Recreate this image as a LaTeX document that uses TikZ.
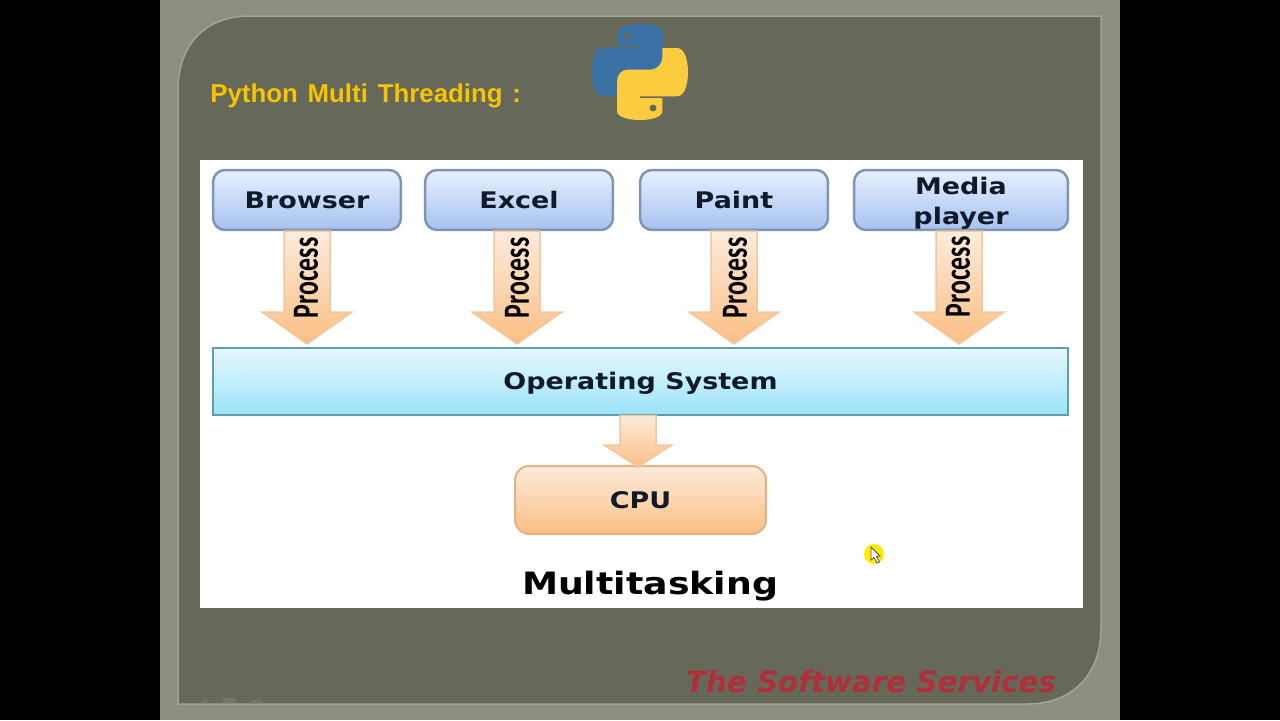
\documentclass[tikz,border=0pt]{standalone}
\usepackage{fontspec}
\usetikzlibrary{calc}
\setmainfont[FakeStretch=1.18]{DejaVu Sans}
\newfontfamily\brandfont{DejaVu Sans}
\newfontfamily\arialfont{Liberation Sans}
\newfontfamily\narrowfont{Carlito}
\definecolor{slidebg}{HTML}{8C8F7F}
\definecolor{panelbg}{HTML}{66685A}
\definecolor{panelrim}{HTML}{A3A594}
\definecolor{navmark}{HTML}{737567}
\definecolor{inktext}{HTML}{101A2A}
\definecolor{titlegold}{HTML}{F6C500}
\definecolor{brandred}{HTML}{B02F38}
\definecolor{pyblue}{HTML}{3A72A6}
\definecolor{pyyellow}{HTML}{FBCC3E}
\definecolor{appedge}{HTML}{7E95B6}
\definecolor{appup}{HTML}{E8F0FD}
\definecolor{appdown}{HTML}{A6C2F0}
\definecolor{arrowedge}{HTML}{F0C8A0}
\definecolor{arrowup}{HTML}{FCEBDC}
\definecolor{arrowdown}{HTML}{FBBE84}
\definecolor{osedge}{HTML}{5F9FAB}
\definecolor{osup}{HTML}{E6F8FE}
\definecolor{osdown}{HTML}{9CE3F9}
\definecolor{cpuedge}{HTML}{E2B280}
\newcommand{\snakepath}{(617.7,46) -- (617.7,33) .. controls (617.7,27) and (628,24) .. (640,24) .. controls (652,24) and (663,27) .. (663,33) -- (663,62) .. controls (663,69) and (659,74.3) .. (652.7,74.3) -- (630,74.3) .. controls (623,74.3) and (617.7,80) .. (617.7,86.7) -- (617.7,96) -- (603,96) .. controls (596,96) and (592,85) .. (592,72) .. controls (592,58) and (596,47.7) .. (603,47.7) -- (640,47.7) -- (640,46) -- cycle}
\newcommand{\flowarrow}[5]{\shadedraw[procarrow] (#1 -| #2) -- ++(#3,0) -- ($(#2)+(#3,-#5)$) -- ($(#2)+(#4,-#5)$) -- (#2) -- ($(#2)+(-#4,-#5)$) -- ($(#2)+(-#3,-#5)$) -- ($(#1 -| #2)+(-#3,0)$) -- cycle;}
\begin{document}
\begin{tikzpicture}[x=0.02cm, y=-0.02cm,
	appbox/.style = {draw=appedge, line width=0.05cm, rounded corners=0.24cm, top color=appup, bottom color=appdown, minimum width=3.76cm, minimum height=1.2cm, inner ysep=0pt, text=inktext, align=center, font=\fontsize{13}{17}\selectfont\bfseries},
	procarrow/.style = {draw=arrowedge, line width=0.03cm, top color=arrowup, bottom color=arrowdown},
	proclabel/.style = {rotate=90, text=black, font=\narrowfont\fontsize{21}{22}\selectfont\bfseries}]

	\useasboundingbox (0,0) rectangle (1280,720);
	\fill[black] (0,0) rectangle (1280,720);
	\fill[slidebg] (160,0) rectangle (1120,720);
	\filldraw[fill=panelbg, draw=panelrim, line width=0.03cm] (178,704) -- (178,90) .. controls (178,45) and (205,16) .. (250,16) -- (1101,16) -- (1101,628) .. controls (1101,675) and (1072,704) .. (1027,704) -- cycle;
	\fill[white] (200,160) rectangle (1083,608);

	\fill[navmark] (200,703) -- (207,697) -- (207,703) -- cycle;
	\fill[navmark] (223,698) rectangle (236,703);
	\fill[navmark] (251,700) -- (258,700) -- (258,697) -- (263,703) -- (251,703) -- cycle;

	\node[text=titlegold, font=\arialfont\fontsize{14.7}{18}\selectfont\bfseries, inner xsep=0pt, anchor=west] (title) at (210,96) {\spaceskip=5.6pt\relax Python Multi Threading :};
	\fill[pyblue] \snakepath;
	\fill[pyyellow, rotate around={180:(640,72)}] \snakepath;
	\fill[panelbg] (627,36) circle (3.5);
	\fill[panelbg] (653,108) circle (3.5);

	\node[appbox] (browser) at (307,200) {Browser};
	\node[appbox] (excel) at (519,200) {Excel};
	\node[appbox] (paint) at (734,200) {Paint};
	\node[appbox, minimum width=4.28cm] (media) at (961,200) {\rule{0pt}{13.5pt}Media\\player};
	\node[draw=osedge, line width=0.04cm, top color=osup, bottom color=osdown, minimum width=17.1cm, minimum height=1.34cm, text depth=0pt, text=inktext, font=\fontsize{13}{17}\selectfont\bfseries] (os) at (640.5,381) {Operating System};
	\node[draw=cpuedge, line width=0.04cm, rounded corners=0.28cm, top color=arrowup, bottom color=arrowdown, minimum width=5.02cm, minimum height=1.36cm, text=inktext, font=\fontsize{13}{17}\selectfont\bfseries] (cpu) at (640.5,500) {CPU};

	\coordinate (tipa) at (307,344);
	\coordinate (tipb) at (517,344);
	\coordinate (tipc) at (734,344);
	\coordinate (tipd) at (959,344);
	\coordinate (tipe) at (638,467);

	\flowarrow{browser.south}{tipa}{23}{45}{32}
	\flowarrow{excel.south}{tipb}{23}{45}{32}
	\flowarrow{paint.south}{tipc}{23}{45}{32}
	\flowarrow{media.south}{tipd}{23}{45}{32}
	\flowarrow{os.south}{tipe}{18}{34}{22}

	\node[proclabel] (proca) at (306,278) {\scalebox{0.7}[1]{Process}};
	\node[proclabel] (procb) at (517,278) {\scalebox{0.7}[1]{Process}};
	\node[proclabel] (procc) at (735,278) {\scalebox{0.7}[1]{Process}};
	\node[proclabel] (procd) at (958,277) {\scalebox{0.7}[1]{Process}};

	\node[text=black, font=\fontsize{17.5}{20}\selectfont\bfseries] (multi) at (650,586) {Multitasking};
	\node[text=brandred, font=\brandfont\fontsize{16.7}{20}\selectfont\bfseries\itshape] (brand) at (871,682) {The Software Services};

	\fill[yellow!95!orange] (874,554) circle (10);
	\filldraw[fill=white, draw=black!70, line width=0.015cm] (871,547) -- (871,560) -- (874,557.5) -- (877,563) -- (879.5,562) -- (876.5,556.5) -- (880,556) -- cycle;
\end{tikzpicture}
\end{document}
